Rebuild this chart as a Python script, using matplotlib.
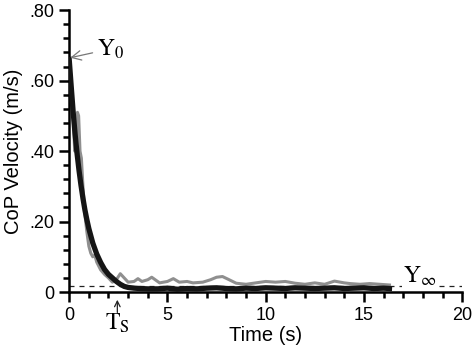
import numpy as np
import matplotlib.pyplot as plt
from matplotlib.ticker import MultipleLocator, FixedLocator

plt.rcParams['font.family'] = ['Liberation Sans', 'DejaVu Sans']
plt.rcParams['mathtext.fontset'] = 'stix'

# fitted (black) curve
fit_t = [0, 0.1, 0.2, 0.3, 0.4, 0.5, 0.6, 0.7, 0.8, 0.9, 1.0, 1.2, 1.4, 1.6, 1.8,
         2.0, 2.2, 2.4, 2.6, 2.8, 3.0, 3.3, 3.6, 4.0, 4.5, 5.0, 5.5, 6.0, 6.5, 7.0,
         7.5, 8.0, 8.5, 9.0, 9.5, 10.0, 10.5, 11.0, 11.5, 12.0, 12.5, 13.0, 13.5,
         14.0, 14.5, 15.0, 15.5, 16.0, 16.3]
fit_v = [0.66, 0.585, 0.512, 0.448, 0.393, 0.345, 0.303, 0.266, 0.233, 0.205, 0.180,
         0.139, 0.108, 0.084, 0.064, 0.050, 0.040, 0.030, 0.022, 0.016, 0.013, 0.011,
         0.010, 0.009, 0.009, 0.011, 0.008, 0.010, 0.009, 0.011, 0.012, 0.010, 0.009,
         0.011, 0.010, 0.012, 0.011, 0.010, 0.012, 0.011, 0.010, 0.011, 0.012, 0.010,
         0.011, 0.012, 0.010, 0.011, 0.010]

# measured (grey) velocity trace
raw_t = [0, 0.1, 0.2, 0.28, 0.35, 0.42, 0.48, 0.55, 0.62, 0.7, 0.8, 0.9, 1.0, 1.1,
         1.2, 1.3, 1.4, 1.6, 1.8, 2.0, 2.2, 2.4, 2.6, 2.8, 3.0, 3.3, 3.5, 3.7,
         4.0, 4.2, 4.6, 5.0, 5.3, 5.6, 6.0, 6.3, 6.8, 7.2, 7.5, 7.8, 8.1, 8.5, 9.0,
         9.5, 10.0, 10.5, 11.0, 11.5, 12.0, 12.5, 13.0, 13.5, 14.0, 14.3, 14.8, 15.3,
         15.8, 16.3]
raw_v = [0.66, 0.60, 0.50, 0.40, 0.42, 0.51, 0.50, 0.40, 0.38, 0.30, 0.22, 0.17,
         0.13, 0.11, 0.10, 0.105, 0.085, 0.063, 0.05, 0.04, 0.028, 0.035, 0.052,
         0.040, 0.028, 0.030, 0.038, 0.030, 0.035, 0.042, 0.026, 0.030, 0.038, 0.028,
         0.030, 0.026, 0.028, 0.035, 0.042, 0.044, 0.036, 0.025, 0.022, 0.026, 0.030,
         0.028, 0.030, 0.025, 0.022, 0.026, 0.022, 0.031, 0.026, 0.024, 0.022, 0.024,
         0.022, 0.020]

y_inf = 0.017
t_s = 2.45

fig = plt.figure(figsize=(4.74, 3.51), dpi=100)
ax = fig.add_axes([0.146, 0.168, 0.829, 0.803])

ax.plot(raw_t, raw_v, color='#8f8f8f', lw=2.2, zorder=2)
ax.plot(fit_t, fit_v, color='#151515', lw=3.8, zorder=3)
ax.axhline(y_inf, color='#222222', lw=0.9, ls=(0, (4, 4)), zorder=1)

ax.set_xlim(0, 20)
ax.set_ylim(0, 0.8)
for s in ['top', 'right']:
    ax.spines[s].set_visible(False)
for s in ['left', 'bottom']:
    ax.spines[s].set_linewidth(1.8)

ax.xaxis.set_major_locator(MultipleLocator(5))
ax.xaxis.set_minor_locator(MultipleLocator(1))
ax.yaxis.set_major_locator(FixedLocator([0, 0.2, 0.4, 0.6, 0.8]))
ax.yaxis.set_minor_locator(MultipleLocator(0.04))
ax.set_yticklabels(['0', '.20', '.40', '.60', '.80'])
ax.tick_params(which='major', direction='out', length=7, width=1.8, labelsize=13)
ax.tick_params(which='minor', direction='out', length=4, width=1.8)

ax.set_xlabel('Time (s)', fontsize=14.5, labelpad=2)
ax.set_ylabel('CoP Velocity (m/s)', fontsize=14.5, labelpad=5)

ax.annotate(r'$\mathrm{Y}_0$', xy=(0.05, 0.665), xytext=(1.4, 0.69),
            fontsize=17, va='center', ha='left',
            arrowprops=dict(arrowstyle='->', color='#777777', lw=0.9, shrinkA=1, shrinkB=0))
ax.text(17.0, 0.045, r'$\mathrm{Y}_\infty$', fontsize=17, va='center', ha='left',
        bbox=dict(facecolor='white', edgecolor='none', pad=0.5))
ax.annotate('', xy=(t_s, -0.022), xytext=(t_s, -0.058), annotation_clip=False,
            arrowprops=dict(arrowstyle='->', color='#222222', lw=0.9, shrinkA=0, shrinkB=0))
ax.text(t_s, -0.088, r'$\mathrm{T_S}$', fontsize=17, ha='center', va='center',
        clip_on=False)

fig.savefig('out.png', dpi=100)
